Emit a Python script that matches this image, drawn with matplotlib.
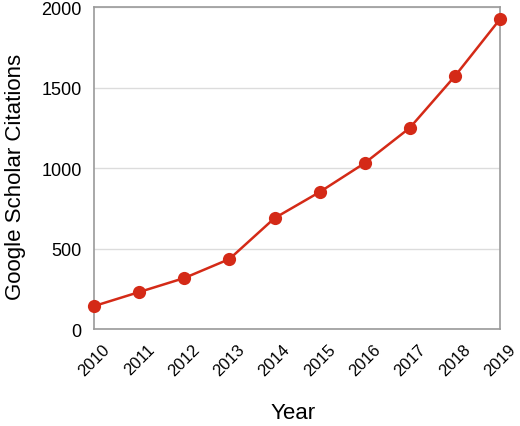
import matplotlib
matplotlib.use("Agg")
import matplotlib.pyplot as plt

years = [2010, 2011, 2012, 2013, 2014, 2015, 2016, 2017, 2018, 2019]
citations = [143, 230, 317, 435, 689, 851, 1031, 1250, 1571, 1925]
y_ticks = [0, 500, 1000, 1500, 2000]

plt.rcParams['font.family'] = ['Liberation Sans', 'DejaVu Sans']

fig = plt.figure(figsize=(5.2, 4.27), dpi=100)
ax = fig.add_axes([0.181, 0.227, 0.7805, 0.754])

ax.plot(years, citations, color='#d42a17', linewidth=1.8,
        marker='o', markersize=9.5, markeredgewidth=0, zorder=3, clip_on=False)

ax.set_xlim(2010, 2019)
ax.set_ylim(0, 2000)
ax.set_xticks(years)
ax.set_yticks(y_ticks)
ax.set_xticklabels([str(y) for y in years], rotation=45, ha='center', va='top')
ax.tick_params(length=0)
ax.tick_params(axis='y', pad=9, labelsize=13)
ax.tick_params(axis='x', pad=9, labelsize=12)

ax.grid(axis='y', color='#dcdcdc', linewidth=1)
ax.set_axisbelow(True)
for s in ax.spines.values():
    s.set_color('#9a9a9a')
    s.set_linewidth(1.2)

ax.set_xlabel('Year', fontsize=16, labelpad=17)
ax.set_ylabel('Google Scholar Citations', fontsize=16, labelpad=11)
ax.xaxis.label.set_x(0.49)
ax.yaxis.label.set_y(0.475)

fig.savefig('out.png', dpi=100)
